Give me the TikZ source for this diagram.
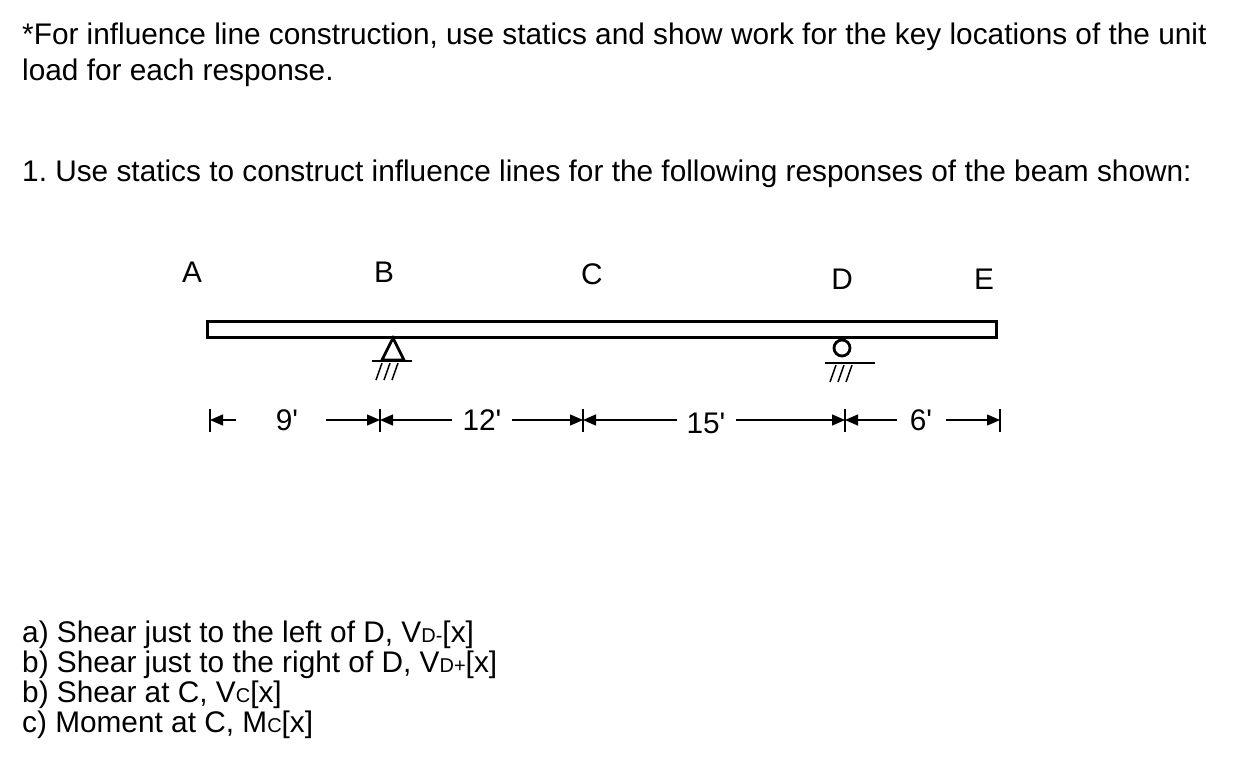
\documentclass[tikz,border=0pt]{standalone}
\usepackage{fontspec}
\setmainfont{Liberation Sans}
\usetikzlibrary{arrows.meta}
\begin{document}
\frenchspacing
\begin{tikzpicture}[x=1pt,y=-1pt,
  txt/.style={anchor=base west,inner sep=0pt,font=\fontsize{29.8}{34}\selectfont},
  lbl/.style={anchor=base,inner sep=0pt,font=\fontsize{29.8}{34}\selectfont},
  dim/.style={anchor=base,inner sep=0pt,font=\fontsize{29.8}{34}\selectfont},
  dl/.style={line width=1.4pt},
  da/.style={dl,-{Triangle[length=13pt,width=11pt]}},
  tk/.style={line width=2pt}]
\useasboundingbox (0,0) rectangle (1244,764);
\newcommand{\sm}[1]{{\fontsize{20}{22}\selectfont #1}}
\newcommand{\ap}{\textquotesingle}
\node[txt] (t1) at (22,44) {*For influence line construction, use statics and show work for the key locations of the unit};
\node[txt] (t2) at (22,80) {load for each response.};
\node[txt] (t3) at (22,181) {1. Use statics to construct influence lines for the following responses of the beam shown:};
\node[lbl] (A) at (192,282) {A};
\node[lbl] (B) at (384,282) {B};
\node[lbl] (C) at (592,284) {C};
\node[lbl] (D) at (842,289) {D};
\node[lbl] (E) at (984,289) {E};
% beam
\draw[line width=3pt] (207,321) rectangle (996,337);
% pin at B
\draw[line width=2.8pt] (393,338) -- (382,360) -- (404,360) -- cycle;
\draw[line width=2.8pt] (372,361) -- (412,361);
\foreach \x in {378,386,394} \draw[line width=1.5pt] (\x+4,363) -- (\x-2,380);
% roller at D
\draw[line width=2.8pt] (842,348) circle[radius=8];
\draw[line width=2.8pt] (825,363) -- (875,363);
\foreach \x in {832,840,848} \draw[line width=1.5pt] (\x+4,365) -- (\x-2,382);
% dimension
\foreach \x in {210,380,583,845,1000} \draw[tk] (\x,409) -- (\x,432);
\coordinate (d0) at (210,420); \coordinate (d1) at (380,420);
\coordinate (d2) at (583,420); \coordinate (d3) at (845,420); \coordinate (d4) at (1000,420);
\draw[da] (236,420) -- (d0); \draw[da] (326,420) -- (d1);
\draw[da] (452,420) -- (d1); \draw[da] (512,420) -- (d2);
\draw[da] (677,420) -- (d2); \draw[da] (736,420) -- (d3);
\draw[da] (897,420) -- (d3); \draw[da] (946,420) -- (d4);
\node[dim] (n9) at (287,430) {9\ap};
\node[dim] (n12) at (482,430) {12\ap};
\node[dim] (n15) at (706,433) {15\ap};
\node[dim] (n6) at (921,430) {6\ap};
% list
\node[txt] (la) at (22,642) {a) Shear just to the left of D, V\sm{D-}[x]};
\node[txt] (lb) at (22,672) {b) Shear just to the right of D, V\sm{D+}[x]};
\node[txt] (lc) at (22,702) {b) Shear at C, V\sm{C}[x]};
\node[txt] (ld) at (22,732) {c) Moment at C, M\sm{C}[x]};
\end{tikzpicture}
\end{document}
